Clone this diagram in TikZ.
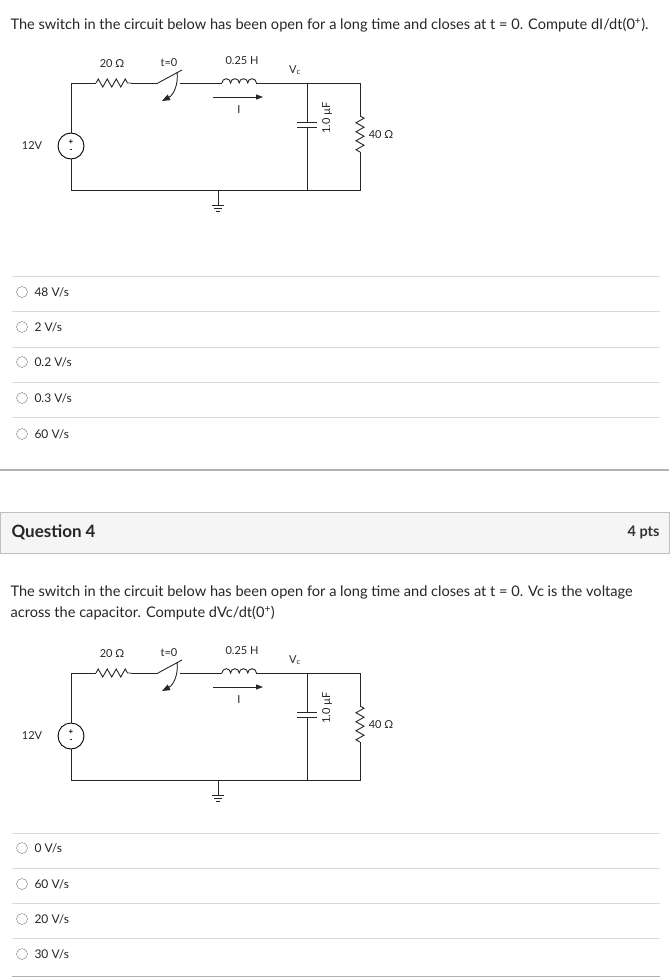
\documentclass[tikz,border=0pt]{standalone}
\usepackage{fontspec}
\setmainfont{Lato}
\usetikzlibrary{arrows.meta,decorations.pathmorphing}
\tikzset{
 wire/.style={line width=0.9pt,black!85},
 sep/.style={draw=black!15,line width=0.8pt},
 radio/.style={circle,draw=black!55,minimum size=11pt,inner sep=0pt},
 opt/.style={anchor=west,font=\fontsize{12}{13}\selectfont,text=black!85},
 lbl/.style={font=\fontsize{11}{12}\selectfont,text=black!85},
 body/.style={anchor=west,font=\fontsize{14.6}{17}\selectfont,text=black!85},
 zz/.style={wire,decorate,decoration={zigzag,segment length=9pt,amplitude=4pt}},
 pm/.style={inner sep=0pt,font=\fontsize{8}{8}\selectfont\bfseries},
}
\newcommand{\mycirc}[1]{%
\begin{scope}[yshift=#1]
 \coordinate (tl) at (71,-83); \coordinate (bl) at (71,-190);
 \coordinate (tm) at (307,-83); \coordinate (bm) at (307,-190);
 \coordinate (tr) at (360,-83); \coordinate (br) at (360,-190);
 \node[circle,draw,line width=0.9pt,minimum size=26pt,inner sep=0pt] (src) at (71,-146) {};
 \node[pm] (plus) at (71,-142) {+};
 \node[pm] (minus) at (71,-151) {-};
 \node[lbl] (v12) at (32,-146) {12V};
 \draw[wire] (src.north) -- (tl) -- (96,-83);
 \draw[zz] (96,-83) -- (131,-83);
 \node[lbl] (r20) at (112,-64) {20 Ω};
 \draw[wire] (131,-83) -- (158,-83);
 \draw[wire] (158,-83) -- (182,-70);
 \node[lbl] (sw) at (169,-63) {t=0};
 \draw[wire,-{Triangle[length=8pt,width=6pt]}] (177,-72) to[bend left=35] (162,-101);
 \draw[wire] (180,-83) -- (222,-83);
 \draw[wire] (222,-83) \foreach \i in {0,1,2,3} {arc[start angle=180,end angle=0,radius=4.3pt]};
 \draw[wire] (256,-83) -- (tr);
 \node[lbl] (ind) at (242,-61) {0.25 H};
 \draw[wire,-{Triangle[length=7pt,width=5pt]}] (213,-97) -- (263,-97);
 \node[lbl] (cur) at (239,-110) {I};
 \node[lbl] (vc) at (295,-70) {V\textsubscript{c}};
 \draw[wire] (tm) -- (307,-122); \draw[wire] (307,-127) -- (bm);
 \draw[wire] (297,-122) -- (317,-122); \draw[wire] (297,-127) -- (317,-127);
 \node[lbl,rotate=90] (cap) at (327,-118) {1.0 µF};
 \draw[wire] (tr) -- (360,-116);
 \draw[zz] (360,-116) -- (360,-152);
 \draw[wire] (360,-152) -- (br) -- (bl) -- (src.south);
 \node[lbl] (r40) at (381,-135) {40 Ω};
 \draw[wire] (218,-190) -- (218,-205);
 \draw[wire] (212,-205) -- (224,-205); \draw[wire] (214,-208) -- (222,-208); \draw[wire] (216,-211) -- (220,-211);
\end{scope}}
\begin{document}
\begin{tikzpicture}[x=1pt,y=1pt]
\useasboundingbox (0,0) rectangle (669,-979);
\node[body] (q3) at (7,-25) {The switch in the circuit below has been open for a long time and closes at t = 0. Compute dI/dt(0\textsuperscript{+}).};
\mycirc{0pt}
\foreach \y in {276,311,347,382,417} \draw[sep] (12,-\y) -- (660,-\y);
\foreach \y/\t [count=\i] in {292/{48 V/s},327/{2 V/s},362/{0.2 V/s},398/{0.3 V/s},434/{60 V/s}}{
 \node[radio] (ra\i) at (22,-\y) {};
 \node[opt] (ta\i) at (31,-\y) {\t};}
\draw[draw=black!30,line width=1.2pt] (0,-470) -- (669,-470);
\filldraw[fill=black!4,draw=black!25,line width=1pt] (0,-512) rectangle (669,-553);
\node[anchor=west,font=\fontsize{17}{19}\selectfont\bfseries,text=black!85] (q4) at (8,-532) {Question 4};
\node[anchor=east,font=\fontsize{14.5}{16}\selectfont\bfseries,text=black!80] (pts) at (663,-532) {4 pts};
\node[body] (t1) at (7,-592) {The switch in the circuit below has been open for a long time and closes at t = 0. Vc is the voltage};
\node[body] (t2) at (7,-613) {across the capacitor. Compute dVc/dt(0\textsuperscript{+})};
\mycirc{-590pt}
\foreach \y in {833,868,903,938} \draw[sep] (12,-\y) -- (660,-\y);
\draw[draw=black!30,line width=1pt] (12,-976) -- (660,-976);
\foreach \y/\t [count=\i] in {848/{0 V/s},884/{60 V/s},919/{20 V/s},954/{30 V/s}}{
 \node[radio] (rb\i) at (22,-\y) {};
 \node[opt] (tb\i) at (31,-\y) {\t};}
\end{tikzpicture}
\end{document}
